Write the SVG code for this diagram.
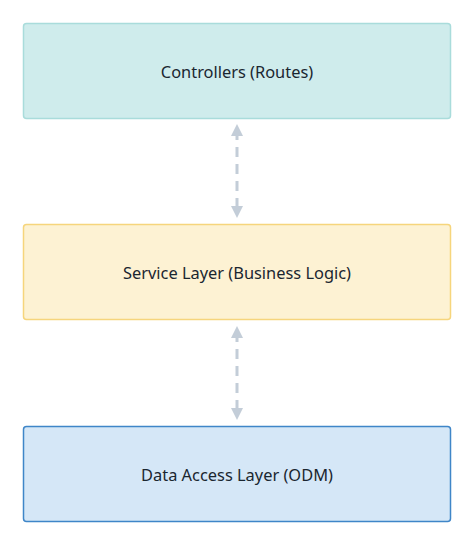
<svg xmlns="http://www.w3.org/2000/svg" width="474" height="545" viewBox="0 0 474 545">
<defs>
<style>
.lbl{font-family:"Noto Sans","DejaVu Sans",sans-serif;font-size:16.4px;fill:#1a2630;text-anchor:middle;dominant-baseline:central}
.conn{stroke:#c3cdd8;stroke-width:3;stroke-dasharray:10,7;fill:none}
</style>
<marker id="ah" viewBox="0 0 10 10" refX="5" refY="5" markerWidth="4" markerHeight="4" orient="auto-start-reverse" markerUnits="strokeWidth">
<path d="M0,0 L10,5 L0,10 z" fill="#c3cdd8"/>
</marker>
</defs>
<rect width="474" height="545" fill="#ffffff"/>
<g id="connectors">
<line class="conn" x1="237" y1="130" x2="237" y2="212" marker-start="url(#ah)" marker-end="url(#ah)"/>
<line class="conn" x1="237" y1="332" x2="237" y2="414" marker-start="url(#ah)" marker-end="url(#ah)"/>
</g>
<g id="controllers">
<rect x="23.5" y="23.5" width="427" height="95" rx="3" fill="#cfecec" stroke="#a9dcdb" stroke-width="1.5"/>
<text class="lbl" x="237" y="71">Controllers (Routes)</text>
</g>
<g id="service">
<rect x="23.5" y="224.5" width="427" height="95" rx="3" fill="#fdf2d3" stroke="#f6d57c" stroke-width="1.5"/>
<text class="lbl" x="237" y="272">Service Layer (Business Logic)</text>
</g>
<g id="data">
<rect x="23.5" y="426.5" width="427" height="95" rx="3" fill="#d5e7f7" stroke="#3f86c8" stroke-width="1.5"/>
<text class="lbl" x="237" y="474">Data Access Layer (ODM)</text>
</g>
</svg>
